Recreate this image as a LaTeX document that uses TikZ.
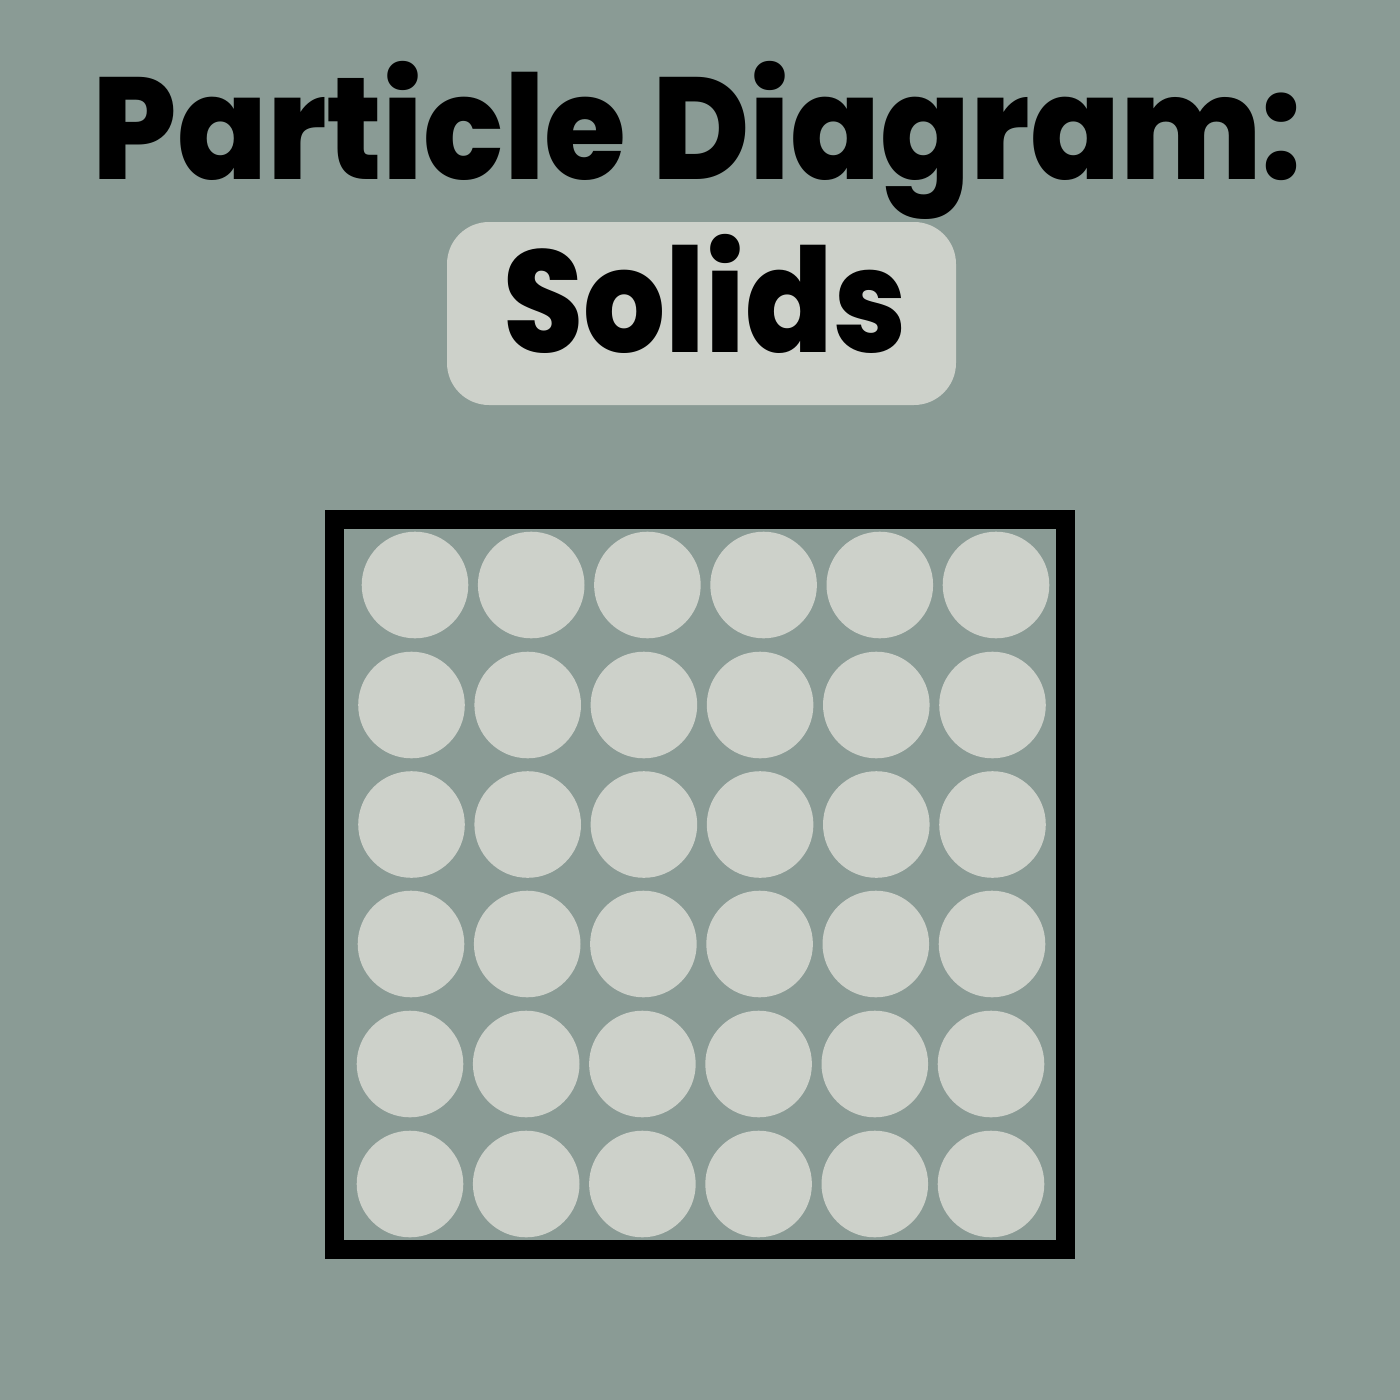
\documentclass[tikz,border=0pt]{standalone}
\usepackage{fontspec}
\usepackage{xcolor}
\usepackage{tikz}
\setmainfont{Poppins}[BoldFont={* ExtraBold}]
\definecolor{sage}{RGB}{138,155,149}
\definecolor{chalk}{RGB}{205,209,202}
\newcommand{\squeeze}[2]{\scalebox{#1}[1]{#2}}
\tikzstyle{heading} = [anchor=base, inner sep=0, font=\bfseries\fontsize{145}{150}\selectfont]
\tikzstyle{tag} = [fill=chalk, rounded corners=42pt, minimum width=509pt, minimum height=183pt, inner sep=0]
\tikzstyle{particle} = [circle, fill=chalk, minimum size=106.6pt, inner sep=0]
\tikzstyle{container} = [draw=black, line width=19pt]

\begin{document}
\begin{tikzpicture}[x=1pt, y=-1pt]
    \fill [sage] (0,0) rectangle (1400,1400);
    \useasboundingbox (0,0) rectangle (1400,1400);

    \node [heading] (title) at (697.5,179) {\squeeze{0.915}{Particle Diagram:}};
    \node [tag] (tagbox) at (701.5,313.5) {};
    \node [heading] (subtitle) at (705,352) {\squeeze{0.89}{Solids}};

    % six rows of six particles
    \foreach \row/\y/\xo in {1/585/415, 2/705/411.5, 3/824.5/411.5, 4/944/411, 5/1064/410, 6/1184/410}
        \foreach \col in {1,...,6}
            \node [particle] (p\row\col) at (\xo+116.2*\col-116.2, \y) {};

    \draw [container] (334.5,519.5) rectangle (1065.5,1249.5);
\end{tikzpicture}
\end{document}
